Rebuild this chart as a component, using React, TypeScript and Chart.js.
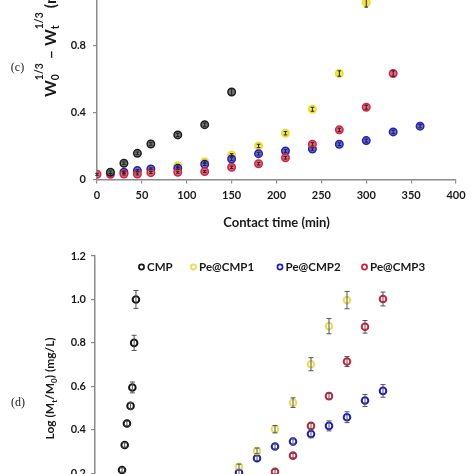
import React, { useEffect, useRef } from "react";
import { Chart, registerables } from "chart.js";

Chart.register(...registerables);

// ---------- Panel (c): Hixson–Crowell plot vs contact time ----------
const cmpTimeC = [15, 30, 45, 60, 90, 120, 150];
const cmpValC = [0.043, 0.097, 0.156, 0.212, 0.266, 0.327, 0.522];
const cmpErrC = [0.008, 0.008, 0.008, 0.008, 0.01, 0.01, 0.02];

const pe1TimeC = [90, 120, 150, 180, 210, 240, 270, 300];
const pe1ValC = [0.082, 0.106, 0.146, 0.2, 0.276, 0.419, 0.632, 1.056];
const pe1ErrC = [0.008, 0.008, 0.008, 0.01, 0.01, 0.012, 0.016, 0.028];

const pe2TimeC = [30, 45, 60, 90, 120, 150, 180, 210, 240, 270, 300, 330, 360];
const pe2ValC = [0.043, 0.053, 0.063, 0.067, 0.091, 0.122, 0.154, 0.17, 0.182, 0.21, 0.232, 0.284, 0.318];
const pe2ErrC = [0.006, 0.006, 0.006, 0.006, 0.007, 0.008, 0.008, 0.008, 0.008, 0.008, 0.009, 0.01, 0.01];

const pe3TimeC = [0, 15, 30, 45, 60, 90, 120, 150, 180, 210, 240, 270, 300, 330];
const pe3ValC = [0.031, 0.031, 0.033, 0.033, 0.041, 0.043, 0.047, 0.073, 0.094, 0.13, 0.21, 0.296, 0.431, 0.632];
const pe3ErrC = [0.006, 0.006, 0.006, 0.006, 0.006, 0.006, 0.006, 0.007, 0.008, 0.008, 0.01, 0.01, 0.012, 0.016];

const xTicksC = { min: 0, max: 400, step: 50 };
const yTicksC = { min: 0, max: 1.2, step: 0.4 };

// ---------- Panel (d): log(Mt/M0) ----------
const cmpTimeD = [30, 33, 35.5, 39.5, 41.5, 43.5, 45.5];
const cmpValD = [0.215, 0.33, 0.429, 0.51, 0.595, 0.8, 1.0];
const cmpErrD = [0.01, 0.01, 0.01, 0.015, 0.025, 0.035, 0.041];

const pe1TimeD = [160, 180, 200, 220, 240, 260, 280];
const pe1ValD = [0.23, 0.303, 0.403, 0.525, 0.702, 0.877, 0.997];
const pe1ErrD = [0.012, 0.013, 0.017, 0.022, 0.03, 0.035, 0.04];

const pe2TimeD = [160, 180, 200, 220, 240, 260, 280, 300, 320];
const pe2ValD = [0.203, 0.269, 0.323, 0.346, 0.381, 0.418, 0.458, 0.535, 0.579];
const pe2ErrD = [0.01, 0.01, 0.012, 0.015, 0.018, 0.023, 0.025, 0.028, 0.029];

const pe3TimeD = [200, 220, 240, 260, 280, 300, 320];
const pe3ValD = [0.207, 0.281, 0.418, 0.555, 0.714, 0.874, 1.002];
const pe3ErrD = [0.01, 0.01, 0.012, 0.015, 0.023, 0.029, 0.032];

const yTicksD = { min: 0, max: 1.2, step: 0.2 };
const xTicksD = { min: 0, max: 400, step: 50 };

const seriesNames = ["CMP", "Pe@CMP1", "Pe@CMP2", "Pe@CMP3"];

const FONT = "Lato";
const AXIS_COLOR = "#8a8a8a";
const TEXT_COLOR = "#1a1a1a";

const toPoints = (xs: number[], ys: number[]) => xs.map((x, i) => ({ x, y: ys[i] }));

// Vertical error bars with caps, positioned through the chart's scales
const errorBarPlugin = {
  id: "errorBars",
  afterDatasetsDraw(chart: any, _args: any, opts: any) {
    const { ctx } = chart;
    chart.data.datasets.forEach((ds: any, di: number) => {
      const errs: number[] | undefined = ds.errors;
      if (!errs) return;
      const meta = chart.getDatasetMeta(di);
      const yScale = chart.scales[meta.yAxisID];
      ctx.save();
      ctx.strokeStyle = opts.color;
      ctx.lineWidth = opts.width;
      meta.data.forEach((pt: any, i: number) => {
        const v = ds.data[i].y;
        const e = errs[i];
        const yt = yScale.getPixelForValue(v + e);
        const yb = yScale.getPixelForValue(v - e);
        const x = pt.x;
        const c = opts.cap;
        ctx.beginPath();
        ctx.moveTo(x, yt);
        ctx.lineTo(x, yb);
        ctx.moveTo(x - c, yt);
        ctx.lineTo(x + c, yt);
        ctx.moveTo(x - c, yb);
        ctx.lineTo(x + c, yb);
        ctx.stroke();
      });
      ctx.restore();
    });
  },
};

type Seg = { t?: string; sub?: string; sup?: string };

function drawRich(
  ctx: CanvasRenderingContext2D,
  segs: Seg[],
  x: number,
  y: number,
  size: number,
  smallSize: number,
  subShift: number,
  supShift: number
) {
  ctx.save();
  ctx.translate(x, y);
  ctx.rotate(-Math.PI / 2);
  ctx.textAlign = "left";
  ctx.textBaseline = "alphabetic";
  ctx.fillStyle = TEXT_COLOR;
  let cx = 0;
  for (const s of segs) {
    if (s.t) {
      ctx.font = `bold ${size}px ${FONT}`;
      ctx.fillText(s.t, cx, 0);
      cx += ctx.measureText(s.t).width;
    }
    let w = 0;
    ctx.font = `bold ${smallSize}px ${FONT}`;
    if (s.sub) {
      ctx.fillText(s.sub, cx, subShift);
      w = Math.max(w, ctx.measureText(s.sub).width);
    }
    if (s.sup) {
      ctx.fillText(s.sup, cx, supShift);
      w = Math.max(w, ctx.measureText(s.sup).width);
    }
    cx += w;
  }
  ctx.restore();
}

// Rotated y-axis caption with sub/superscripts plus the panel tag
const captionPlugin = {
  id: "caption",
  afterDraw(chart: any, _args: any, opts: any) {
    const { ctx } = chart;
    drawRich(ctx, opts.segs, opts.x, opts.y, opts.size, opts.smallSize, opts.subShift, opts.supShift);
    ctx.save();
    ctx.font = `12px "Liberation Serif"`;
    ctx.fillStyle = TEXT_COLOR;
    ctx.textAlign = "center";
    ctx.textBaseline = "middle";
    ctx.fillText(opts.tag, opts.tagX, opts.tagY);
    ctx.restore();
  },
};

// Single-row legend drawn inside the plot area
const inlineLegendPlugin = {
  id: "inlineLegend",
  afterDraw(chart: any, _args: any, opts: any) {
    if (!opts || !opts.centers) return;
    const { ctx, chartArea } = chart;
    const y = chartArea.top + opts.offsetY;
    ctx.save();
    ctx.font = `bold ${opts.size}px ${FONT}`;
    ctx.textBaseline = "middle";
    ctx.textAlign = "left";
    chart.data.datasets.forEach((ds: any, i: number) => {
      const cx = opts.centers[i];
      ctx.beginPath();
      ctx.arc(cx, y, opts.r, 0, Math.PI * 2);
      ctx.fillStyle = "#ffffff";
      ctx.fill();
      ctx.lineWidth = 1.7;
      ctx.strokeStyle = ds.borderColor;
      ctx.stroke();
      ctx.fillStyle = TEXT_COLOR;
      ctx.fillText(ds.label, cx + opts.r + 3, y + 0.5);
    });
    ctx.restore();
  },
};

const tickFont = { family: FONT, weight: "bold" as const, size: 11 };

function axisBase() {
  return {
    grid: {
      display: true,
      drawOnChartArea: false,
      drawTicks: true,
      tickLength: 4,
      color: AXIS_COLOR,
      lineWidth: 1.2,
    },
    border: { display: true, color: AXIS_COLOR, width: 1.5 },
  };
}

function configC(): any {
  return {
    type: "scatter",
    data: {
      datasets: [
        {
          label: seriesNames[0],
          data: toPoints(cmpTimeC, cmpValC),
          errors: cmpErrC,
          borderColor: "#1e1e1e",
          backgroundColor: "#6f796f",
          order: 0,
        },
        {
          label: seriesNames[1],
          data: toPoints(pe1TimeC, pe1ValC),
          errors: pe1ErrC,
          borderColor: "#eedd38",
          backgroundColor: "#f4e64c",
          order: 3,
        },
        {
          label: seriesNames[2],
          data: toPoints(pe2TimeC, pe2ValC),
          errors: pe2ErrC,
          borderColor: "#2222c4",
          backgroundColor: "#6b6bd4",
          order: 2,
        },
        {
          label: seriesNames[3],
          data: toPoints(pe3TimeC, pe3ValC),
          errors: pe3ErrC,
          borderColor: "#d42545",
          backgroundColor: "#e26a7c",
          order: 1,
        },
      ].map((d) => ({ ...d, pointRadius: 3.75, pointBorderWidth: 1.5, pointHoverRadius: 3.75 })),
    },
    options: {
      responsive: false,
      animation: false,
      events: [],
      layout: { padding: { top: 38.3, left: 0, right: 18, bottom: 0 } },
      plugins: {
        legend: { display: false },
        tooltip: { enabled: false },
        errorBars: { color: "#222222", width: 1, cap: 1.8 },
        caption: {
          segs: [
            { t: "W", sub: "0", sup: "1/3" },
            { t: " \u2013 W", sub: "t", sup: "1/3" },
            { t: " (mg)" },
          ],
          x: 55.5,
          y: 157,
          size: 16,
          smallSize: 10.5,
          subShift: 3.5,
          supShift: -13,
          tag: "(c)",
          tagX: 17.5,
          tagY: 128,
        },
      },
      scales: {
        x: {
          type: "linear",
          min: xTicksC.min,
          max: xTicksC.max,
          ...axisBase(),
          ticks: { stepSize: xTicksC.step, font: tickFont, color: TEXT_COLOR, padding: 5.6 },
          title: {
            display: true,
            text: "Contact time (min)",
            font: { family: FONT, weight: "bold", size: 13 },
            color: TEXT_COLOR,
            padding: { top: 0, bottom: 9.2 },
          },
          afterFit: (s: any) => {
            s.height = 60.5;
          },
        },
        y: {
          type: "linear",
          min: yTicksC.min,
          max: yTicksC.max,
          ...axisBase(),
          ticks: {
            stepSize: yTicksC.step,
            font: tickFont,
            color: TEXT_COLOR,
            padding: 7,
            callback: (v: number) => (v === 0 ? "0" : Number(v).toFixed(1)),
          },
          afterFit: (s: any) => {
            s.width = 97;
          },
        },
      },
    },
    plugins: [errorBarPlugin, captionPlugin],
  };
}

function configD(): any {
  const colors = ["#161616", "#eadb55", "#1e1eb4", "#cc1f3f"];
  const sets = [
    [cmpTimeD, cmpValD, cmpErrD],
    [pe1TimeD, pe1ValD, pe1ErrD],
    [pe2TimeD, pe2ValD, pe2ErrD],
    [pe3TimeD, pe3ValD, pe3ErrD],
  ];
  return {
    type: "scatter",
    data: {
      datasets: sets.map(([xs, ys, es], i) => ({
        label: seriesNames[i],
        data: toPoints(xs, ys),
        errors: es,
        borderColor: colors[i],
        backgroundColor: "#ffffff",
        pointRadius: 3.3,
        pointBorderWidth: 2,
        pointHoverRadius: 3.3,
      })),
    },
    options: {
      responsive: false,
      animation: false,
      events: [],
      layout: { padding: { top: 26, left: 0, right: 19, bottom: 0 } },
      plugins: {
        legend: { display: false },
        tooltip: { enabled: false },
        errorBars: { color: "#555555", width: 1, cap: 2.5 },
        inlineLegend: { centers: [141.5, 193.5, 280, 364.5], offsetY: 11, r: 2.6, size: 11.5 },
        caption: {
          segs: [
            { t: "Log (M", sub: "t" },
            { t: "/M", sub: "0" },
            { t: ") (mg/L)" },
          ],
          x: 53.5,
          y: 209.5,
          size: 12,
          smallSize: 8,
          subShift: 3,
          supShift: -9,
          tag: "(d)",
          tagX: 18,
          tagY: 173,
        },
      },
      scales: {
        x: {
          type: "linear",
          min: xTicksD.min,
          max: xTicksD.max,
          ...axisBase(),
          ticks: { stepSize: xTicksD.step, font: tickFont, color: TEXT_COLOR, padding: 5.6 },
          afterFit: (s: any) => {
            s.height = 43.3;
          },
        },
        y: {
          type: "linear",
          min: yTicksD.min,
          max: yTicksD.max,
          ...axisBase(),
          ticks: {
            stepSize: yTicksD.step,
            font: tickFont,
            color: TEXT_COLOR,
            padding: 5,
            callback: (v: number) => Number(v).toFixed(1),
          },
          afterFit: (s: any) => {
            s.width = 95;
          },
        },
      },
    },
    plugins: [errorBarPlugin, inlineLegendPlugin, captionPlugin],
  };
}

export default function App() {
  const topRef = useRef<HTMLCanvasElement>(null);
  const bottomRef = useRef<HTMLCanvasElement>(null);

  useEffect(() => {
    const c1 = new Chart(topRef.current as HTMLCanvasElement, configC());
    const c2 = new Chart(bottomRef.current as HTMLCanvasElement, configD());
    return () => {
      c1.destroy();
      c2.destroy();
    };
  }, []);

  return (
    <div
      style={{
        position: "absolute",
        left: 0,
        top: 0,
        width: 474,
        height: 474,
        overflow: "hidden",
        background: "#ffffff",
      }}
    >
      <canvas
        ref={topRef}
        width={474}
        height={300}
        style={{ position: "absolute", left: 0, top: -60, width: 474, height: 300 }}
      />
      <canvas
        ref={bottomRef}
        width={474}
        height={330}
        style={{ position: "absolute", left: 0, top: 230, width: 474, height: 330 }}
      />
    </div>
  );
}
